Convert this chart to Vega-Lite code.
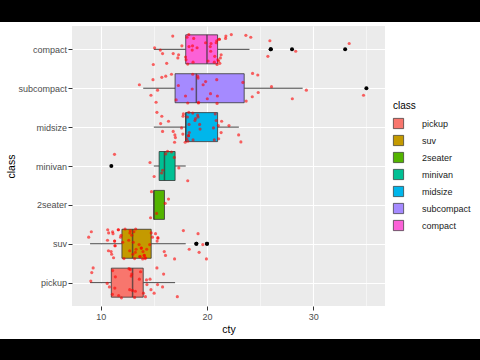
{
"$schema": "https://vega.github.io/schema/vega-lite/v6.json",
"padding": 0,
"background": "white",
"spacing": 4,
"bounds": "full",
"resolve": {"legend": {"color": "independent"}, "scale": {"color": "independent"}},
"vconcat": [
{"width": 480, "height": 22, "data": {"values": []}, "view": {"fill": "black", "stroke": null}, "mark": {"type": "point", "opacity": 0}, "encoding": {}},
{"spacing": 5,
 "resolve": {"legend": {"color": "independent"}, "scale": {"color": "independent"}},
 "hconcat": [
{"width": 1, "height": 1, "data": {"values": []}, "view": {"fill": null, "stroke": null}, "mark": {"type": "point", "opacity": 0}, "encoding": {}},
{
"width": 313, "height": 280,
"view": {"fill": "#EBEBEB", "stroke": null},
"data": {"values": [
{"class":"compact","cty":18,"jx":18.12,"jy":-0.31},
{"class":"compact","cty":21,"jx":20.73,"jy":0.18},
{"class":"compact","cty":20,"jx":20.35,"jy":0.05},
{"class":"compact","cty":21,"jx":20.92,"jy":-0.22},
{"class":"compact","cty":16,"jx":16.21,"jy":0.36},
{"class":"compact","cty":18,"jx":17.64,"jy":-0.09},
{"class":"compact","cty":18,"jx":18.03,"jy":0.27},
{"class":"compact","cty":18,"jx":18.29,"jy":-0.38},
{"class":"compact","cty":16,"jx":15.82,"jy":0.11},
{"class":"compact","cty":20,"jx":20.38,"jy":-0.15},
{"class":"compact","cty":19,"jx":18.69,"jy":0.33},
{"class":"compact","cty":15,"jx":15.07,"jy":-0.04},
{"class":"compact","cty":17,"jx":16.78,"jy":-0.34},
{"class":"compact","cty":17,"jx":17.26,"jy":0.22},
{"class":"compact","cty":15,"jx":14.95,"jy":0.39},
{"class":"compact","cty":21,"jx":21.16,"jy":-0.26},
{"class":"compact","cty":19,"jx":18.61,"jy":0.02},
{"class":"compact","cty":21,"jx":21.33,"jy":0.14},
{"class":"compact","cty":21,"jx":20.87,"jy":-0.17},
{"class":"compact","cty":21,"jx":21.1,"jy":0.3},
{"class":"compact","cty":22,"jx":21.75,"jy":-0.28},
{"class":"compact","cty":18,"jx":18.31,"jy":-0.07},
{"class":"compact","cty":18,"jx":17.98,"jy":0.2},
{"class":"compact","cty":18,"jx":18.19,"jy":0.38},
{"class":"compact","cty":24,"jx":23.66,"jy":-0.36},
{"class":"compact","cty":24,"jx":24.12,"jy":-0.31},
{"class":"compact","cty":26,"jx":25.73,"jy":0.18},
{"class":"compact","cty":28,"jx":28.35,"jy":0.05},
{"class":"compact","cty":26,"jx":25.92,"jy":-0.22},
{"class":"compact","cty":21,"jx":21.21,"jy":0.36},
{"class":"compact","cty":19,"jx":18.64,"jy":-0.09},
{"class":"compact","cty":21,"jx":21.03,"jy":0.27},
{"class":"compact","cty":22,"jx":22.29,"jy":-0.38},
{"class":"compact","cty":17,"jx":16.82,"jy":0.11},
{"class":"compact","cty":33,"jx":33.38,"jy":-0.15},
{"class":"compact","cty":21,"jx":20.69,"jy":0.33},
{"class":"compact","cty":19,"jx":19.07,"jy":-0.04},
{"class":"compact","cty":22,"jx":21.78,"jy":-0.34},
{"class":"compact","cty":21,"jx":21.26,"jy":0.22},
{"class":"compact","cty":21,"jx":20.95,"jy":0.39},
{"class":"compact","cty":21,"jx":21.16,"jy":-0.26},
{"class":"compact","cty":16,"jx":15.61,"jy":0.02},
{"class":"compact","cty":17,"jx":17.33,"jy":0.14},
{"class":"compact","cty":20,"jx":19.87,"jy":-0.17},
{"class":"compact","cty":20,"jx":20.1,"jy":0.3},
{"class":"compact","cty":19,"jx":18.75,"jy":-0.28},
{"class":"compact","cty":20,"jx":20.31,"jy":-0.07},
{"class":"subcompact","cty":18,"jx":17.98,"jy":0.2},
{"class":"subcompact","cty":18,"jx":18.19,"jy":0.38},
{"class":"subcompact","cty":17,"jx":16.66,"jy":-0.36},
{"class":"subcompact","cty":16,"jx":16.12,"jy":-0.31},
{"class":"subcompact","cty":15,"jx":14.73,"jy":0.18},
{"class":"subcompact","cty":15,"jx":15.35,"jy":0.05},
{"class":"subcompact","cty":15,"jx":14.92,"jy":-0.22},
{"class":"subcompact","cty":15,"jx":15.21,"jy":0.36},
{"class":"subcompact","cty":14,"jx":13.64,"jy":-0.09},
{"class":"subcompact","cty":28,"jx":28.03,"jy":0.27},
{"class":"subcompact","cty":24,"jx":24.29,"jy":-0.38},
{"class":"subcompact","cty":25,"jx":24.82,"jy":0.11},
{"class":"subcompact","cty":23,"jx":23.38,"jy":-0.15},
{"class":"subcompact","cty":24,"jx":23.69,"jy":0.33},
{"class":"subcompact","cty":26,"jx":26.07,"jy":-0.04},
{"class":"subcompact","cty":25,"jx":24.78,"jy":-0.34},
{"class":"subcompact","cty":24,"jx":24.26,"jy":0.22},
{"class":"subcompact","cty":21,"jx":20.95,"jy":0.39},
{"class":"subcompact","cty":19,"jx":19.16,"jy":-0.26},
{"class":"subcompact","cty":19,"jx":18.61,"jy":0.02},
{"class":"subcompact","cty":20,"jx":20.33,"jy":0.14},
{"class":"subcompact","cty":20,"jx":19.87,"jy":-0.17},
{"class":"subcompact","cty":17,"jx":17.1,"jy":0.3},
{"class":"subcompact","cty":16,"jx":15.75,"jy":-0.28},
{"class":"subcompact","cty":17,"jx":17.31,"jy":-0.07},
{"class":"subcompact","cty":21,"jx":20.98,"jy":0.2},
{"class":"subcompact","cty":19,"jx":19.19,"jy":0.38},
{"class":"subcompact","cty":19,"jx":18.66,"jy":-0.36},
{"class":"subcompact","cty":19,"jx":19.12,"jy":-0.31},
{"class":"subcompact","cty":35,"jx":34.73,"jy":0.18},
{"class":"subcompact","cty":29,"jx":29.35,"jy":0.05},
{"class":"subcompact","cty":21,"jx":20.92,"jy":-0.22},
{"class":"subcompact","cty":19,"jx":19.21,"jy":0.36},
{"class":"subcompact","cty":20,"jx":19.64,"jy":-0.09},
{"class":"subcompact","cty":20,"jx":20.03,"jy":0.27},
{"class":"midsize","cty":15,"jx":15.29,"jy":-0.38},
{"class":"midsize","cty":17,"jx":16.82,"jy":0.11},
{"class":"midsize","cty":16,"jx":16.38,"jy":-0.15},
{"class":"midsize","cty":19,"jx":18.69,"jy":0.33},
{"class":"midsize","cty":22,"jx":22.07,"jy":-0.04},
{"class":"midsize","cty":18,"jx":17.78,"jy":-0.34},
{"class":"midsize","cty":18,"jx":18.26,"jy":0.22},
{"class":"midsize","cty":17,"jx":16.95,"jy":0.39},
{"class":"midsize","cty":18,"jx":18.16,"jy":-0.26},
{"class":"midsize","cty":18,"jx":17.61,"jy":0.02},
{"class":"midsize","cty":21,"jx":21.33,"jy":0.14},
{"class":"midsize","cty":21,"jx":20.87,"jy":-0.17},
{"class":"midsize","cty":18,"jx":18.1,"jy":0.3},
{"class":"midsize","cty":18,"jx":17.75,"jy":-0.28},
{"class":"midsize","cty":19,"jx":19.31,"jy":-0.07},
{"class":"midsize","cty":23,"jx":22.98,"jy":0.2},
{"class":"midsize","cty":23,"jx":23.19,"jy":0.38},
{"class":"midsize","cty":19,"jx":18.66,"jy":-0.36},
{"class":"midsize","cty":19,"jx":19.12,"jy":-0.31},
{"class":"midsize","cty":18,"jx":17.73,"jy":0.18},
{"class":"midsize","cty":19,"jx":19.35,"jy":0.05},
{"class":"midsize","cty":19,"jx":18.92,"jy":-0.22},
{"class":"midsize","cty":18,"jx":18.21,"jy":0.36},
{"class":"midsize","cty":16,"jx":15.64,"jy":-0.09},
{"class":"midsize","cty":17,"jx":17.03,"jy":0.27},
{"class":"midsize","cty":18,"jx":18.29,"jy":-0.38},
{"class":"midsize","cty":16,"jx":15.82,"jy":0.11},
{"class":"midsize","cty":21,"jx":21.38,"jy":-0.15},
{"class":"midsize","cty":21,"jx":20.69,"jy":0.33},
{"class":"midsize","cty":21,"jx":21.07,"jy":-0.04},
{"class":"midsize","cty":21,"jx":20.78,"jy":-0.34},
{"class":"midsize","cty":18,"jx":18.26,"jy":0.22},
{"class":"midsize","cty":18,"jx":17.95,"jy":0.39},
{"class":"midsize","cty":19,"jx":19.16,"jy":-0.26},
{"class":"midsize","cty":21,"jx":20.61,"jy":0.02},
{"class":"midsize","cty":18,"jx":18.33,"jy":0.14},
{"class":"midsize","cty":19,"jx":18.87,"jy":-0.17},
{"class":"midsize","cty":21,"jx":21.1,"jy":0.3},
{"class":"midsize","cty":16,"jx":15.75,"jy":-0.28},
{"class":"midsize","cty":18,"jx":18.31,"jy":-0.07},
{"class":"midsize","cty":17,"jx":16.98,"jy":0.2},
{"class":"minivan","cty":18,"jx":18.19,"jy":0.38},
{"class":"minivan","cty":17,"jx":16.66,"jy":-0.36},
{"class":"minivan","cty":16,"jx":16.12,"jy":-0.31},
{"class":"minivan","cty":16,"jx":15.73,"jy":0.18},
{"class":"minivan","cty":17,"jx":17.35,"jy":0.05},
{"class":"minivan","cty":17,"jx":16.92,"jy":-0.22},
{"class":"minivan","cty":11,"jx":11.3,"jy":-0.3},
{"class":"minivan","cty":15,"jx":14.64,"jy":-0.09},
{"class":"minivan","cty":15,"jx":15.03,"jy":0.27},
{"class":"minivan","cty":16,"jx":16.29,"jy":-0.38},
{"class":"minivan","cty":16,"jx":15.82,"jy":0.11},
{"class":"2seater","cty":16,"jx":16.38,"jy":-0.15},
{"class":"2seater","cty":15,"jx":14.69,"jy":0.33},
{"class":"2seater","cty":16,"jx":16.07,"jy":-0.04},
{"class":"2seater","cty":15,"jx":14.78,"jy":-0.34},
{"class":"2seater","cty":15,"jx":15.26,"jy":0.22},
{"class":"suv","cty":14,"jx":13.95,"jy":0.39},
{"class":"suv","cty":11,"jx":11.16,"jy":-0.26},
{"class":"suv","cty":14,"jx":13.61,"jy":0.02},
{"class":"suv","cty":13,"jx":13.33,"jy":0.14},
{"class":"suv","cty":12,"jx":11.87,"jy":-0.17},
{"class":"suv","cty":14,"jx":14.1,"jy":0.3},
{"class":"suv","cty":11,"jx":10.75,"jy":-0.28},
{"class":"suv","cty":11,"jx":11.31,"jy":-0.07},
{"class":"suv","cty":14,"jx":13.98,"jy":0.2},
{"class":"suv","cty":13,"jx":13.19,"jy":0.38},
{"class":"suv","cty":12,"jx":11.66,"jy":-0.36},
{"class":"suv","cty":9,"jx":9.12,"jy":-0.31},
{"class":"suv","cty":13,"jx":12.73,"jy":0.18},
{"class":"suv","cty":11,"jx":11.35,"jy":0.05},
{"class":"suv","cty":13,"jx":12.92,"jy":-0.22},
{"class":"suv","cty":11,"jx":11.21,"jy":0.36},
{"class":"suv","cty":11,"jx":10.64,"jy":-0.09},
{"class":"suv","cty":11,"jx":11.03,"jy":0.27},
{"class":"suv","cty":12,"jx":12.29,"jy":-0.38},
{"class":"suv","cty":14,"jx":13.82,"jy":0.11},
{"class":"suv","cty":15,"jx":15.38,"jy":-0.15},
{"class":"suv","cty":14,"jx":13.69,"jy":0.33},
{"class":"suv","cty":13,"jx":13.07,"jy":-0.04},
{"class":"suv","cty":13,"jx":12.78,"jy":-0.34},
{"class":"suv","cty":13,"jx":13.26,"jy":0.22},
{"class":"suv","cty":17,"jx":16.95,"jy":0.39},
{"class":"suv","cty":15,"jx":15.16,"jy":-0.26},
{"class":"suv","cty":15,"jx":14.61,"jy":0.02},
{"class":"suv","cty":14,"jx":14.33,"jy":0.14},
{"class":"suv","cty":9,"jx":8.87,"jy":-0.17},
{"class":"suv","cty":14,"jx":14.1,"jy":0.3},
{"class":"suv","cty":13,"jx":12.75,"jy":-0.28},
{"class":"suv","cty":11,"jx":11.31,"jy":-0.07},
{"class":"suv","cty":11,"jx":10.98,"jy":0.2},
{"class":"suv","cty":12,"jx":12.19,"jy":0.38},
{"class":"suv","cty":12,"jx":11.66,"jy":-0.36},
{"class":"suv","cty":11,"jx":11.12,"jy":-0.31},
{"class":"suv","cty":11,"jx":10.73,"jy":0.18},
{"class":"suv","cty":11,"jx":11.35,"jy":0.05},
{"class":"suv","cty":12,"jx":11.92,"jy":-0.22},
{"class":"suv","cty":14,"jx":14.21,"jy":0.36},
{"class":"suv","cty":13,"jx":12.64,"jy":-0.09},
{"class":"suv","cty":13,"jx":13.03,"jy":0.27},
{"class":"suv","cty":13,"jx":13.29,"jy":-0.38},
{"class":"suv","cty":14,"jx":13.82,"jy":0.11},
{"class":"suv","cty":15,"jx":15.38,"jy":-0.15},
{"class":"suv","cty":14,"jx":13.69,"jy":0.33},
{"class":"suv","cty":12,"jx":12.07,"jy":-0.04},
{"class":"suv","cty":18,"jx":17.78,"jy":-0.34},
{"class":"suv","cty":19,"jx":19.26,"jy":0.22},
{"class":"suv","cty":20,"jx":19.95,"jy":0.39},
{"class":"suv","cty":19,"jx":19.16,"jy":-0.26},
{"class":"suv","cty":20,"jx":19.61,"jy":0.02},
{"class":"suv","cty":18,"jx":18.33,"jy":0.14},
{"class":"suv","cty":15,"jx":14.87,"jy":-0.17},
{"class":"suv","cty":16,"jx":16.1,"jy":0.3},
{"class":"suv","cty":15,"jx":14.75,"jy":-0.28},
{"class":"suv","cty":15,"jx":15.31,"jy":-0.07},
{"class":"suv","cty":16,"jx":15.98,"jy":0.2},
{"class":"suv","cty":14,"jx":14.19,"jy":0.38},
{"class":"suv","cty":11,"jx":10.66,"jy":-0.36},
{"class":"suv","cty":13,"jx":13.12,"jy":-0.31},
{"class":"pickup","cty":15,"jx":14.73,"jy":0.18},
{"class":"pickup","cty":14,"jx":14.35,"jy":0.05},
{"class":"pickup","cty":13,"jx":12.92,"jy":-0.22},
{"class":"pickup","cty":14,"jx":14.21,"jy":0.36},
{"class":"pickup","cty":14,"jx":13.64,"jy":-0.09},
{"class":"pickup","cty":14,"jx":14.03,"jy":0.27},
{"class":"pickup","cty":9,"jx":9.29,"jy":-0.38},
{"class":"pickup","cty":11,"jx":10.82,"jy":0.11},
{"class":"pickup","cty":11,"jx":11.38,"jy":-0.15},
{"class":"pickup","cty":12,"jx":11.69,"jy":0.33},
{"class":"pickup","cty":9,"jx":9.07,"jy":-0.04},
{"class":"pickup","cty":13,"jx":12.78,"jy":-0.34},
{"class":"pickup","cty":13,"jx":13.26,"jy":0.22},
{"class":"pickup","cty":12,"jx":11.95,"jy":0.39},
{"class":"pickup","cty":9,"jx":9.16,"jy":-0.26},
{"class":"pickup","cty":11,"jx":10.61,"jy":0.02},
{"class":"pickup","cty":11,"jx":11.33,"jy":0.14},
{"class":"pickup","cty":13,"jx":12.87,"jy":-0.17},
{"class":"pickup","cty":11,"jx":11.1,"jy":0.3},
{"class":"pickup","cty":14,"jx":13.75,"jy":-0.28},
{"class":"pickup","cty":14,"jx":14.31,"jy":-0.07},
{"class":"pickup","cty":13,"jx":12.98,"jy":0.2},
{"class":"pickup","cty":13,"jx":13.19,"jy":0.38},
{"class":"pickup","cty":13,"jx":12.66,"jy":-0.36},
{"class":"pickup","cty":11,"jx":11.12,"jy":-0.31},
{"class":"pickup","cty":13,"jx":12.73,"jy":0.18},
{"class":"pickup","cty":15,"jx":15.35,"jy":0.05},
{"class":"pickup","cty":16,"jx":15.92,"jy":-0.22},
{"class":"pickup","cty":17,"jx":17.21,"jy":0.36},
{"class":"pickup","cty":15,"jx":14.64,"jy":-0.09},
{"class":"pickup","cty":15,"jx":15.03,"jy":0.27},
{"class":"pickup","cty":15,"jx":15.29,"jy":-0.38},
{"class":"pickup","cty":16,"jx":15.82,"jy":0.11}
]},
"encoding": {
"y": {"field": "class", "type": "nominal", "title": "class",
 "sort": ["compact","subcompact","midsize","minivan","2seater","suv","pickup"],
 "scale": {"type": "point", "padding": 0.6},
 "axis": {"grid": true, "gridColor": "white", "gridWidth": 1.1, "domain": false, "tickSize": 4, "tickColor": "#333333", "labelPadding": 1.5, "labelFontSize": 9, "labelColor": "#4D4D4D", "titleFontSize": 10.5, "titleFontWeight": "normal", "titleColor": "black", "titlePadding": 1}}
},
"layer": [
{"mark": {"type": "boxplot", "extent": 1.5, "size": 29, "ticks": false,
  "box": {"stroke": "#333333", "strokeWidth": 0.8},
  "median": {"color": "#333333", "thickness": 1.5},
  "rule": {"color": "#444444", "strokeWidth": 1},
  "outliers": {"color": "black", "fill": "black", "filled": true, "size": 16, "opacity": 1}},
 "encoding": {
  "x": {"field": "cty", "type": "quantitative", "title": "cty",
   "scale": {"domain": [7.3, 36.75], "nice": false, "zero": false},
   "axis": {"values": [10, 15, 20, 25, 30, 35], "labelExpr": "datum.value % 10 === 0 ? datum.label : ''",
    "grid": true, "gridColor": "white",
    "gridWidth": {"condition": {"test": "datum.value % 10 === 0", "value": 1.1}, "value": 0.5},
    "tickOpacity": {"condition": {"test": "datum.value % 10 === 0", "value": 1}, "value": 0},
    "domain": false, "tickSize": 4, "tickColor": "#333333", "labelPadding": 2, "labelFontSize": 9, "labelColor": "#4D4D4D",
    "titleFontSize": 10.5, "titleFontWeight": "normal", "titleColor": "black", "titlePadding": 3}},
  "color": {"field": "class", "type": "nominal",
   "scale": {"domain": ["pickup","suv","2seater","minivan","midsize","subcompact","compact"],
    "range": ["#F8766D","#C49A00","#53B400","#00C094","#00B6EB","#A58AFF","#FB61D7"]},
   "legend": {"orient": "none", "legendX": 321, "legendY": 75, "title": "class", "titleFontSize": 10, "titleFontWeight": "normal", "titleColor": "black", "titlePadding": 7,
    "labelFontSize": 9, "labelColor": "#1A1A1A", "labelOffset": 18, "symbolType": "square", "symbolSize": 105, "symbolStrokeColor": "#333333", "symbolStrokeWidth": 0.7, "symbolOpacity": 1, "rowPadding": 2}}
 }},
{"mark": {"type": "point", "filled": true, "color": "red", "opacity": 0.6, "size": 10},
 "encoding": {
  "x": {"field": "jx", "type": "quantitative", "title": "cty"},
  "yOffset": {"field": "jy", "type": "quantitative", "scale": {"domain": [-0.5, 0.5], "range": [-19.45, 19.45]}}
 }}
]
}
]},
{"width": 480, "height": 22, "data": {"values": []}, "view": {"fill": "black", "stroke": null}, "mark": {"type": "point", "opacity": 0}, "encoding": {}}
],
"config": {"font": "Liberation Sans", "view": {"stroke": null}}
}
